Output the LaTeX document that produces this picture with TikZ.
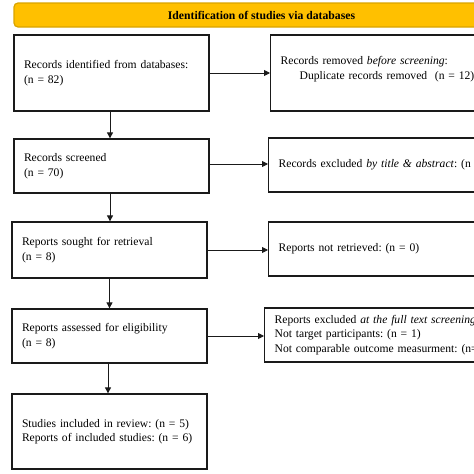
\documentclass[tikz,border=0pt]{standalone}
\usepackage{fontspec}
\setmainfont{Liberation Serif}
\usetikzlibrary{arrows.meta}
\definecolor{bannerfill}{HTML}{FFC000}
\definecolor{bannerline}{HTML}{D9A400}
\definecolor{boxline}{HTML}{1A1A1A}
\frenchspacing
\begin{document}
\begin{tikzpicture}[x=1pt,y=-1pt,
  every node/.style={font=\fontsize{11.6}{14.5}\selectfont\frenchspacing},
  lbox/.style={draw=boxline, line width=1.3pt, inner xsep=10pt, inner ysep=2pt,
    minimum width=195pt, text width=175pt, align=left},
  rbox/.style={draw=boxline, line width=1.3pt, inner xsep=10pt, inner ysep=2pt,
    minimum width=320pt, text width=300pt, align=left, anchor=west},
  banner/.style={draw=bannerline, fill=bannerfill, line width=1.2pt, rounded corners=4pt,
    minimum width=495pt, minimum height=24pt, font=\fontsize{11.7}{14}\selectfont\bfseries},
  flow/.style={draw=boxline, line width=0.9pt, -{Triangle[length=6pt,width=6pt]}}
]
\useasboundingbox (0,0) rectangle (474,474);
\clip (0,0) rectangle (474,474);

\node[banner] (ban) at (261.5,15) {Identification of studies via databases};

\node[lbox, minimum height=76pt] (b1) at (111.5,73) {Records identified from databases:\\(n = 82)};
\node[lbox, minimum height=54pt] (b2) at (111.5,166) {Records screened\\(n = 70)};
\node[lbox, minimum height=56pt] (b3) at (109.5,250) {Reports sought for retrieval\\(n = 8)};
\node[lbox, minimum height=54pt] (b4) at (109.5,336) {Reports assessed for eligibility\\(n = 8)};
\node[lbox, minimum height=75pt] (b5) at (109.5,431.5) {Studies included in review: (n = 5)\\Reports of included studies: (n = 6)};

\node[rbox, minimum height=76pt] (r1) at (270,73) {Records removed \textit{before screening}:\\\hspace*{19pt}Duplicate records removed\ \ (n = 12)\\[-4pt]\mbox{}};
\node[rbox, minimum height=54pt] (r2) at (268,165) {Records excluded \textit{by title \& abstract}: (n = 62)};
\node[rbox, minimum height=54pt] (r3) at (268,249) {Reports not retrieved: (n = 0)};
\node[rbox, minimum height=54pt] (r4) at (264,335) {Reports excluded \textit{at the full text screening}:\\Not target participants: (n = 1)\\Not comparable outcome measurment: (n= 1)};

\draw[flow] (b1.east) -- (b1.east -| r1.west);
\draw[flow] ([yshift=2pt]b2.east) -- ([yshift=2pt]b2.east -| r2.west);
\draw[flow] (b3.east) -- (b3.east -| r3.west);
\draw[flow] (b4.east) -- (b4.east -| r4.west);

\draw[flow] ([xshift=-1.5pt]b1.south) -- ([xshift=-1.5pt]b1.south |- b2.north);
\draw[flow] ([xshift=-1.5pt]b2.south) -- ([xshift=-1.5pt]b2.south |- b3.north);
\draw[flow] (b3.south) -- (b3.south |- b4.north);
\draw[flow] ([xshift=-1.5pt]b4.south) -- ([xshift=-1.5pt]b4.south |- b5.north);
\end{tikzpicture}
\end{document}
